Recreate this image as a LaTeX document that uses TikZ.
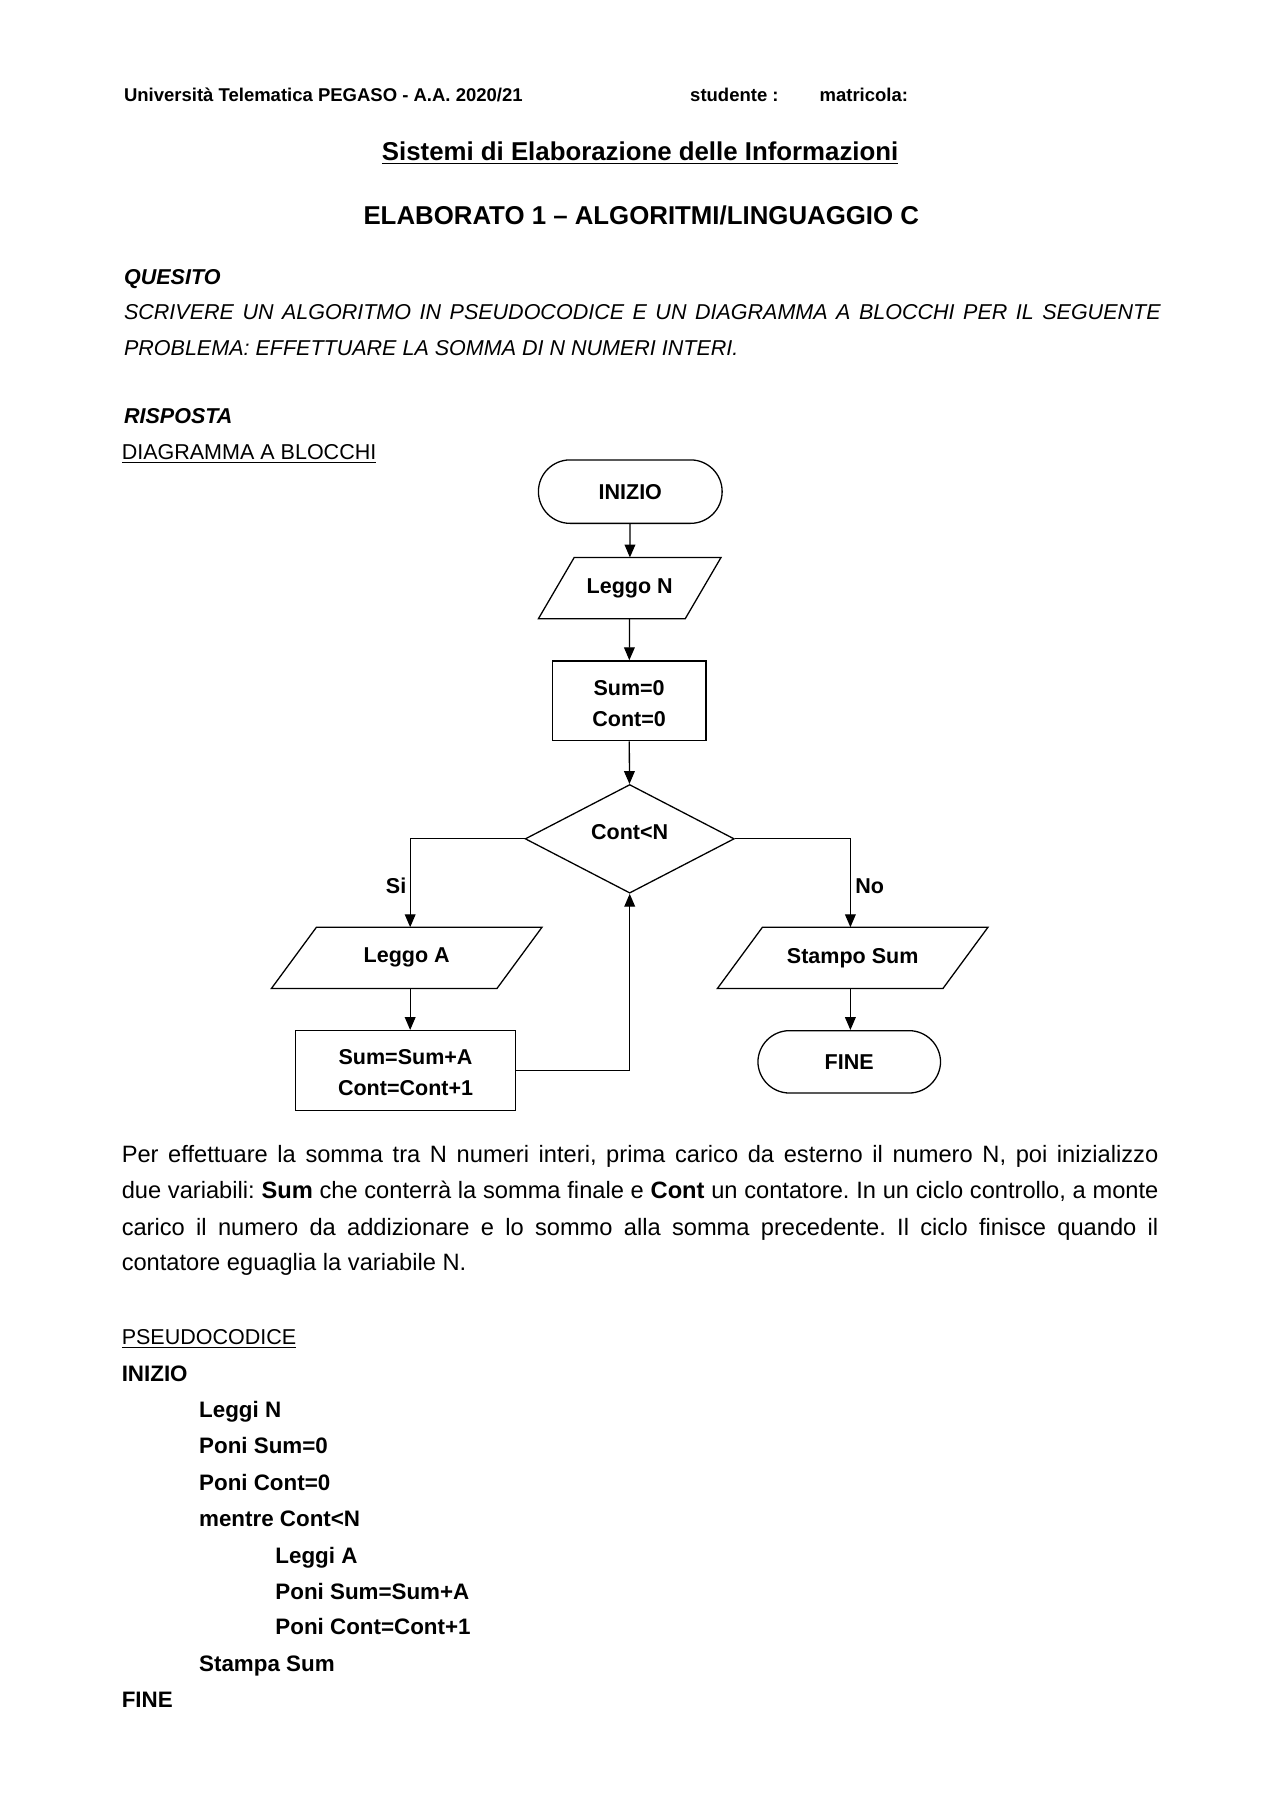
\documentclass[tikz,border=0pt]{standalone}
\usepackage{fontspec}
\setmainfont{Liberation Sans}
\usetikzlibrary{shapes.geometric,arrows.meta,calc}
\newcommand{\fsz}[1]{\fontsize{#1}{#1}\selectfont}
\frenchspacing
\begin{document}
\begin{tikzpicture}[x=0.53713pt,y=-0.53713pt,
  txt/.style={inner sep=0pt, anchor=base west},
  fc/.style={line width=0.6pt, font=\fontsize{10}{14.6}\selectfont\bfseries, align=center, inner sep=0pt},
  term/.style={fc, draw, rectangle, rounded corners=14.7pt, minimum width=85.4pt, minimum height=29.5pt},
  io/.style={fc, rectangle, minimum height=27.9pt},
  proc/.style={fc, draw, rectangle, minimum height=37.1pt},
  dec/.style={fc, draw, diamond, minimum width=97.2pt, minimum height=50.5pt},
  shp/.style={line width=0.6pt, line join=miter},
  arr/.style={line width=0.6pt, -{Triangle[length=6pt,width=5pt]}},
  lbl/.style={inner sep=0pt, font=\fsz{10}\bfseries},
]
\fill[white] (0,0) rectangle (1108.3,1567.4);
\useasboundingbox (0,0) rectangle (1108.3,1567.4);

% header
\node[txt, font=\fsz{8.6}\bfseries] (h1) at (107,87.6) {Università Telematica PEGASO - A.A. 2020/21};
\node[txt, font=\fsz{8.6}\bfseries] (h2) at (597,87.6) {studente :};
\node[txt, font=\fsz{8.6}\bfseries] (h3) at (709,87.6) {matricola:};

\node[inner sep=0pt, anchor=base, font=\fsz{12}\bfseries] (title) at (554,139) {\underline{Sistemi di Elaborazione delle Informazioni}};
\node[inner sep=0pt, anchor=base, font=\fsz{12}\bfseries] (elab) at (555,194) {ELABORATO 1 – ALGORITMI/LINGUAGGIO C};

\node[txt, font=\fsz{10}\bfseries\itshape] (ques) at (107,246.6) {QUESITO};
\node[txt, font=\fsz{10}\itshape] (q1) at (107,276.6) {\makebox[481.9pt][s]{SCRIVERE UN ALGORITMO IN PSEUDOCODICE E UN DIAGRAMMA A BLOCCHI PER IL SEGUENTE}};
\node[txt, font=\fsz{10}\itshape] (q2) at (107,307.6) {PROBLEMA: EFFETTUARE LA SOMMA DI N NUMERI INTERI.};

\node[txt, font=\fsz{10}\bfseries\itshape] (risp) at (107,366.6) {RISPOSTA};
\node[txt, font=\fsz{10}] (diag) at (105,397.6) {\underline{DIAGRAMMA A BLOCCHI}};

% flowchart
\node[term] (ini) at (545.5,425.5) {INIZIO};
\node[io, minimum width=84.3pt] (ln) at (545,509) {Leggo N};
\draw[shp] ($(ln.north west)+(31,0)$) -- (ln.north east) -- ($(ln.south east)-(31,0)$) -- (ln.south west) -- cycle;
\node[proc, minimum width=71.4pt] (init) at (544.5,606.5) {};
\node[fc] (initt) at (544.5,609) {Sum=0\\Cont=0};
\node[dec] (dec) at (545,726) {};
\node[fc] (dect) at (545,720.5) {Cont<N};
\node[io, minimum width=125.2pt] (la) at (352,829) {Leggo A};
\draw[shp] ($(la.north west)+(39,0)$) -- (la.north east) -- ($(la.south east)-(39,0)$) -- (la.south west) -- cycle;
\node[io, minimum width=125.2pt] (ss) at (738,829) {Stampo Sum};
\draw[shp] ($(ss.north west)+(39,0)$) -- (ss.north east) -- ($(ss.south east)-(39,0)$) -- (ss.south west) -- cycle;
\node[proc, minimum width=102.1pt] (upd) at (351,926.5) {};
\node[fc] (updt) at (351,928.5) {Sum=Sum+A\\Cont=Cont+1};
\node[term, minimum width=84.9pt, minimum height=29pt] (fine) at (735,919) {FINE};

\coordinate (lx) at (355,829);
\coordinate (rx) at (736,829);
\draw[arr] (ini) -- (ln);
\draw[arr] (ln) -- (init);
\draw[arr] (init) -- (dec);
\draw[arr] (dec.west) -| (lx |- la.north);
\draw[arr] (dec.east) -| (rx |- ss.north);
\draw[arr] (lx |- la.south) -- (lx |- upd.north);
\draw[arr] (rx |- ss.south) -- (rx |- fine.north);
\draw[arr] (upd.east) -| (dec.south);
\node[lbl, anchor=east] (si) at (352,767) {Si};
\node[lbl, anchor=west] (no) at (740,767) {No};

% body text
\node[txt, font=\fsz{11}] (b1) at (105,1006) {\makebox[481.9pt][s]{Per effettuare la somma tra N numeri interi, prima carico da esterno il numero N, poi inizializzo}};
\node[txt, font=\fsz{11}] (b2) at (105,1037) {\makebox[481.9pt][s]{due variabili: \textbf{Sum} che conterrà la somma finale e \textbf{Cont} un contatore. In un ciclo controllo, a monte}};
\node[txt, font=\fsz{11}] (b3) at (105,1069) {\makebox[481.9pt][s]{carico il numero da addizionare e lo sommo alla somma precedente. Il ciclo finisce quando il}};
\node[txt, font=\fsz{11}] (b4) at (105,1100) {contatore eguaglia la variabile N.};

% pseudocode
\node[txt, font=\fsz{10}] (pc) at (105,1163.6) {\underline{PSEUDOCODICE}};
\begin{scope}[every node/.style={txt, font=\fsz{10.4}\bfseries}]
\node (p1) at (105,1196) {INIZIO};
\node (p2) at (172,1227) {Leggi N};
\node (p3) at (172,1258) {Poni Sum=0};
\node (p4) at (172,1290) {Poni Cont=0};
\node (p5) at (172,1321) {mentre Cont<N};
\node (p6) at (238,1353) {Leggi A};
\node (p7) at (238,1384) {Poni Sum=Sum+A};
\node (p8) at (238,1415) {Poni Cont=Cont+1};
\node (p9) at (172,1447) {Stampa Sum};
\node (p10) at (105,1478) {FINE};
\end{scope}
\end{tikzpicture}
\end{document}
